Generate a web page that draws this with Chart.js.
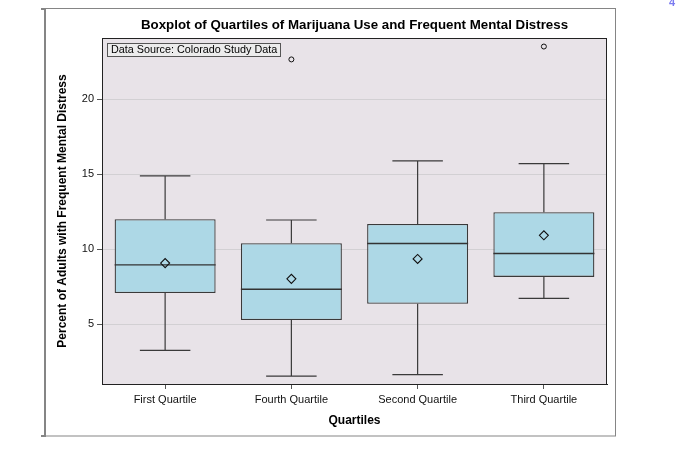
<!DOCTYPE html>
<html>
<head>
<meta charset="utf-8">
<script src="https://cdn.jsdelivr.net/npm/chart.js@4"></script>
<style>
  html, body { margin: 0; padding: 0; background: #fff; }
  #wrap { width: 679px; height: 463px; position: relative; }
</style>
</head>
<body>
<div id="wrap"><canvas id="boxChart"></canvas></div>
<script>
const categories = ["First Quartile", "Fourth Quartile", "Second Quartile", "Third Quartile"];
const minVals = [3.25, 1.53, 1.62, 6.71];
const q1Vals = [7.07, 5.27, 6.35, 8.15];
const medianVals = [8.95, 7.33, 10.38, 9.71];
const q3Vals = [12.0, 10.4, 11.69, 12.47];
const maxVals = [14.9, 11.95, 15.89, 15.71];
const meanVals = [9.07, 8.02, 9.35, 10.93];
const outlierVals = [null, 22.67, null, 23.53];
const yTicks = [5, 10, 15, 20];

const FONT = "'Liberation Sans', Arial, sans-serif";

// frame, plot background, title, inset note
const decor = {
  id: "decor",
  beforeDraw(chart) {
    const ctx = chart.ctx;
    const a = chart.chartArea;
    ctx.save();
    ctx.fillStyle = "#fff";
    ctx.fillRect(0, 0, chart.width, chart.height);

    ctx.strokeStyle = "#858585";
    ctx.lineWidth = 1;
    ctx.strokeRect(44.5, 8.5, 571, 427.5);
    ctx.lineWidth = 2;
    ctx.beginPath();
    ctx.moveTo(45, 8); ctx.lineTo(45, 437);
    ctx.moveTo(41, 9); ctx.lineTo(45, 9);
    ctx.moveTo(41, 436); ctx.lineTo(45, 436);
    ctx.stroke();

    ctx.fillStyle = "#e8e3e8";
    ctx.fillRect(a.left, a.top, a.right - a.left, a.bottom - a.top);

    ctx.fillStyle = "#000";
    ctx.font = "bold 13.3px " + FONT;
    ctx.textAlign = "center";
    ctx.textBaseline = "middle";
    ctx.fillText("Boxplot of Quartiles of Marijuana Use and Frequent Mental Distress", (a.left + a.right) / 2, 25);

    ctx.fillStyle = "#7b7bf0";
    ctx.font = "bold 11px " + FONT;
    ctx.fillText("4", 672, 3);
    ctx.restore();
  },
  beforeDatasetsDraw(chart) {
    const ctx = chart.ctx;
    const x = chart.scales.x, y = chart.scales.y;
    const capHalf = x.width / categories.length * 0.2;
    ctx.save();
    ctx.strokeStyle = "#3a3a3a";
    ctx.lineWidth = 1.2;
    categories.forEach((c, i) => {
      const px = x.getPixelForValue(i);
      ctx.beginPath();
      ctx.moveTo(px, y.getPixelForValue(q3Vals[i]));
      ctx.lineTo(px, y.getPixelForValue(maxVals[i]));
      ctx.moveTo(px - capHalf, y.getPixelForValue(maxVals[i]));
      ctx.lineTo(px + capHalf, y.getPixelForValue(maxVals[i]));
      ctx.moveTo(px, y.getPixelForValue(q1Vals[i]));
      ctx.lineTo(px, y.getPixelForValue(minVals[i]));
      ctx.moveTo(px - capHalf, y.getPixelForValue(minVals[i]));
      ctx.lineTo(px + capHalf, y.getPixelForValue(minVals[i]));
      ctx.stroke();
    });
    ctx.restore();
  },
  afterDatasetDraw(chart, args) {
    if (args.index !== 0) return;
    const ctx = chart.ctx;
    const y = chart.scales.y;
    const meta = chart.getDatasetMeta(0);
    ctx.save();
    ctx.strokeStyle = "#333";
    ctx.lineWidth = 1.4;
    meta.data.forEach((bar, i) => {
      const py = y.getPixelForValue(medianVals[i]);
      ctx.beginPath();
      ctx.moveTo(bar.x - bar.width / 2, py);
      ctx.lineTo(bar.x + bar.width / 2, py);
      ctx.stroke();
    });
    ctx.restore();
  },
  afterDraw(chart) {
    const ctx = chart.ctx;
    const a = chart.chartArea;
    ctx.save();
    ctx.strokeStyle = "#222";
    ctx.lineWidth = 1;
    ctx.strokeRect(a.left + 0.5, a.top + 0.5, a.right - a.left - 1, a.bottom - a.top);
    // inset note
    ctx.fillStyle = "#ececec";
    ctx.fillRect(107, 43, 174, 14);
    ctx.strokeStyle = "#555";
    ctx.strokeRect(107.5, 43.5, 173, 13);
    ctx.fillStyle = "#000";
    ctx.font = "10.8px " + FONT;
    ctx.textAlign = "left";
    ctx.textBaseline = "middle";
    ctx.fillText("Data Source: Colorado Study Data", 111, 50.5);
    ctx.restore();
  }
};

new Chart(document.getElementById("boxChart"), {
  data: {
    labels: categories,
    datasets: [
      {
        type: "bar",
        data: categories.map((c, i) => [q1Vals[i], q3Vals[i]]),
        backgroundColor: "#add8e6",
        borderColor: "#3a3a3a",
        borderWidth: 1.3,
        borderSkipped: false,
        barPercentage: 0.8,
        categoryPercentage: 1,
        order: 3
      },
      {
        type: "line",
        data: meanVals,
        showLine: false,
        pointStyle: "rectRot",
        pointRadius: 4.5,
        pointBackgroundColor: "rgba(0,0,0,0)",
        pointBorderColor: "#111",
        pointBorderWidth: 1.1,
        order: 1
      },
      {
        type: "line",
        data: outlierVals,
        showLine: false,
        pointStyle: "circle",
        pointRadius: 2.5,
        pointBackgroundColor: "rgba(0,0,0,0)",
        pointBorderColor: "#111",
        pointBorderWidth: 1,
        order: 2
      }
    ]
  },
  options: {
    responsive: true,
    maintainAspectRatio: false,
    animation: false,
    layout: { padding: { left: 45, right: 72, top: 38, bottom: 31 } },
    plugins: {
      legend: { display: false },
      title: { display: false },
      tooltip: { enabled: false }
    },
    scales: {
      x: {
        type: "category",
        offset: true,
        afterFit(scale) { scale.height = 48; },
        grid: { offset: false, drawOnChartArea: false, drawTicks: true, tickLength: 5, tickColor: "#555" },
        border: { display: true, color: "#222" },
        ticks: { color: "#111", font: { family: FONT, size: 11 }, padding: 4, maxRotation: 0 },
        title: { display: true, text: "Quartiles", color: "#000", font: { family: FONT, size: 12, weight: "bold" }, padding: { top: 4, bottom: 4 } }
      },
      y: {
        min: 1.0,
        max: 24.1,
        afterFit(scale) { scale.width = 57; },
        afterBuildTicks(scale) { scale.ticks = yTicks.map(v => ({ value: v })); },
        grid: { color: "#d2d0d3", lineWidth: 1, tickLength: 5, tickColor: "#555" },
        border: { display: true, color: "#222" },
        ticks: { color: "#111", font: { family: FONT, size: 11 }, padding: 3 },
        title: { display: true, text: "Percent of Adults with Frequent Mental Distress", color: "#000", font: { family: FONT, size: 12, weight: "bold" }, padding: { top: 10, bottom: 4 } }
      }
    }
  },
  plugins: [decor]
});
</script>
</body>
</html>
